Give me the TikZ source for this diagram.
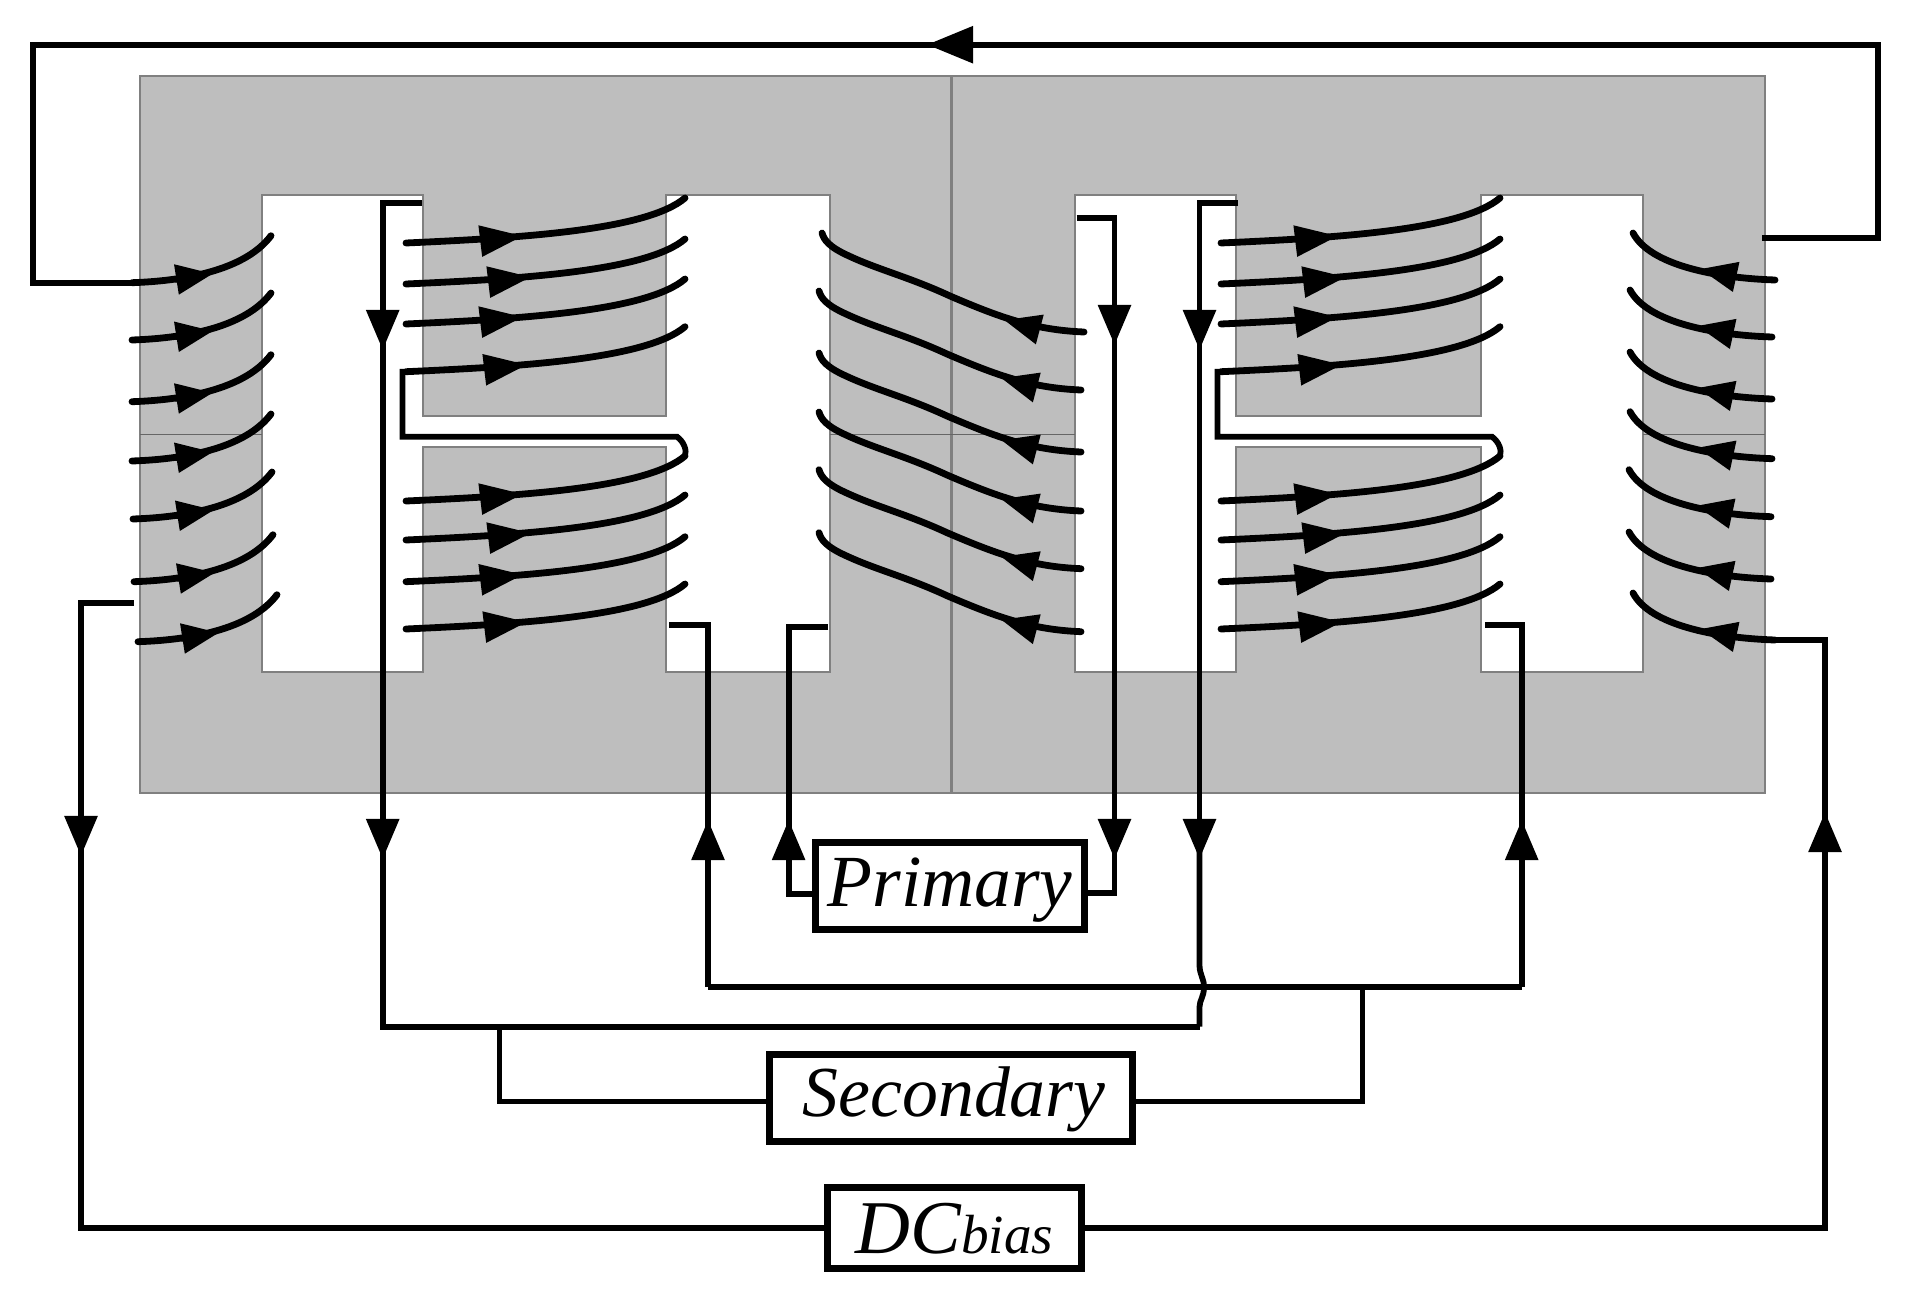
\documentclass[tikz,border=0pt]{standalone}
\usepackage{fontspec}
\setmainfont{Liberation Serif}
\usetikzlibrary{arrows.meta,calc}

\tikzset{
    lead/.style={draw, line width=0.058cm},
    cont/.style={lead, shorten <=-0.14cm},
    coilwire/.style={draw, line width=0.068cm, line cap=round},
    coiltip/.style={-{Triangle[length=0.37cm, width=0.29cm]}, line width=0.06cm},
    longtip/.style={-{Triangle[length=0.43cm, width=0.30cm]}, line width=0.06cm},
    termbox/.style={draw, line width=0.07cm, fill=white, inner sep=0pt, text height=0.55cm, font=\fontsize{20.9pt}{24pt}\selectfont\itshape},
    shortturn/.pic={
        \draw[coilwire] (0,0) .. controls (60,-2) and (115,-15) .. (139,-47);
        \draw[coiltip] (43,-3) -- (81,-9);
    },
    longturn/.pic={
        \draw[coilwire] (0,0) .. controls (110,-5) and (240,-12) .. (279,-45);
        \draw[longtip] (75+\off,-2) -- (117+\off,-7);
    },
    slantturn/.pic={
        \draw[coilwire] (0,0) .. controls (-50,-2) and (-85,-15) .. (-134,-36)
            .. controls (-175,-55) and (-205,-62) .. (-235,-76)
            .. controls (-255,-85) and (-260,-92) .. (-262,-99);
        \draw[coiltip] (-46,-3) -- (-80,-12);
    },
    backturn/.pic={
        \draw[coilwire] (0,0) .. controls (-60,-2) and (-125,-15) .. (-142,-47);
        \draw[coiltip] (-43,-4) -- (-75,-11);
    }
}

\begin{document}
\begin{tikzpicture}[x=0.01cm, y=-0.01cm,
    >={Triangle[length=0.40cm, width=0.32cm]}]
\useasboundingbox (0,0) rectangle (1910,1297);

% Core with its two H shaped openings
\path[fill={rgb,255:red,190;green,190;blue,190}, draw={rgb,255:red,128;green,128;blue,128}, line width=0.02cm, even odd rule]
    (140,76) rectangle (1765,793)
    \foreach \s/\t in {0/0,813/815} {
        ({261.7+\s},195) -- ({423+\s},195) -- ({423+\s},416) -- ({666+\t},416) -- ({666+\t},195)
        -- ({829.5+\s},195) -- ({829.5+\s},672) -- ({666+\t},672) -- ({666+\t},446.7)
        -- ({423+\s},446.7) -- ({423+\s},672) -- ({261.7+\s},672) -- cycle
    };

% Joints
\draw[gray, line width=0.025cm] (951.5,76) -- (951.5,793);
\draw[black!60, line width=0.012cm] (140,434.3) -- (261.7,434.3);
\draw[black!60, line width=0.012cm] (829.5,434.3) -- (1074.6,434.3);
\draw[black!60, line width=0.012cm] (1643,434.3) -- (1765,434.3);

% Terminal boxes
\node[termbox, minimum width=2.68cm, minimum height=0.87cm, text depth=0.136cm] (primary) at (950,886) {Primary};
\node[termbox, minimum width=3.63cm, minimum height=0.86cm, text depth=0.176cm, font=\fontsize{20.4pt}{24pt}\selectfont\itshape] (secondary) at (950.6,1098) {\hspace*{0.07cm}Secondary};
\node[termbox, minimum width=2.53cm, minimum height=0.80cm, text depth=0.044cm, font=\fontsize{21.6pt}{24pt}\selectfont\itshape] (dcbias) at (954.5,1228) {DC{\fontsize{15.7pt}{18pt}\selectfont bias}};

% Outer limb coils
\foreach \x/\y in {132/282.7,132/340,132/401.7,132/461,133/519,134/581.7,138/641.7}
    \pic at (\x,\y) {shortturn};
\foreach \x/\y in {1775/280,1772/337,1772/399,1772/458.7,1771/516.7,1771/579,1775/640}
    \pic at (\x,\y) {backturn};

% Slanted coils across the middle limb
\foreach \x/\y in {1084/332,1081/390,1081/452,1081/511,1081/568.7,1081/631.7}
    \pic at (\x,\y) {slantturn};

% Inner coils, upper and lower part with the link between them
\foreach \s in {0,815} {
    \foreach \y/\off in {243/0,284/8,324/0,371.7/4,501/0,540/8,581.7/0,629/4}
        \pic at ({406+\s},\y) {longturn};
    \draw[lead] ({685+\s},456) .. controls ({687+\s},450) and ({684+\s},442) .. ({677+\s},436.7)
        -- ({402.5+\s},436.7) -- ({402.5+\s},371.7) -- ({406+\s},371.7);
}

% Named points of the leads
\coordinate (fbtop) at (1762,238);
\coordinate (fbtip) at (927,44.7);
\coordinate (fbend) at (132,282.7);
\coordinate (winA) at (422,203.3);
\coordinate (tipA) at (382.7,350);
\coordinate (tipB) at (382.7,859);
\coordinate (winC) at (1238,203.3);
\coordinate (tipC) at (1199.5,350);
\coordinate (tipD) at (1199.5,859);
\coordinate (jogA) at (1199.5,965);
\coordinate (jogB) at (1199.5,1007);
\coordinate (retn) at (1199.5,1026.7);
\coordinate (winE) at (1076.6,218);
\coordinate (tipE) at (1114.5,345);
\coordinate (tipF) at (1114.5,859);
\coordinate (winG) at (827.5,626.7);
\coordinate (tipG) at (788.6,820);
\coordinate (winH) at (669.4,625);
\coordinate (tipH) at (708,820);
\coordinate (crossL) at (708,987);
\coordinate (winJ) at (1485,625);
\coordinate (tipJ) at (1521.7,820);
\coordinate (crossR) at (1521.7,987);
\coordinate (branchR) at (1362.5,987);
\coordinate (branchL) at (499.4,1026.7);
\coordinate (winK) at (134,603);
\coordinate (tipK) at (81,856);
\coordinate (tipL) at (1825,812);
\coordinate (winL) at (1775,640);

% Feedback line over the top
\draw[lead, ->, >={Triangle[length=0.46cm, width=0.36cm]}] (fbtop) -- (1878,238) -- (1878,44.7) -- (fbtip);
\draw[cont] (fbtip) -- (33,44.7) -- (33,282.7) -- (fbend);

% Primary
\draw[lead, ->] ([yshift=-0.08cm]primary.west) -| (tipG);
\draw[cont] (tipG) |- (winG);
\draw[lead, ->] (winE) -| (tipE);
\draw[cont, ->] (tipE) -- (tipF);
\draw[cont] (tipF) |- ([yshift=-0.07cm]primary.east);

% Secondary
\draw[lead, ->] (winA) -| (tipA);
\draw[cont, ->] (tipA) -- (tipB);
\draw[cont] (tipB) |- (retn);
\draw[lead, ->] (winC) -| (tipC);
\draw[cont, ->] (tipC) -- (tipD);
\draw[cont] (tipD) -- (jogA) .. controls (1199.5,975) and (1204,978) .. (1204,987)
    .. controls (1204,997) and (1199.5,1000) .. (jogB) -- (retn);
\draw[lead, ->] (crossL) -- (tipH);
\draw[cont] (tipH) |- (winH);
\draw[lead, ->] (crossR) -- (tipJ);
\draw[cont] (tipJ) |- (winJ);
\draw[lead] (crossL) -- (crossR);
\draw[lead] (branchR) |- ([yshift=-0.035cm]secondary.east);
\draw[lead] (branchL) |- ([yshift=-0.035cm]secondary.west);

% DC bias
\draw[lead, ->] (winK) -| (tipK);
\draw[cont] (tipK) |- (dcbias.west);
\draw[lead, ->] (dcbias.east) -| (tipL);
\draw[cont] (tipL) |- (winL);

\end{tikzpicture}
\end{document}
